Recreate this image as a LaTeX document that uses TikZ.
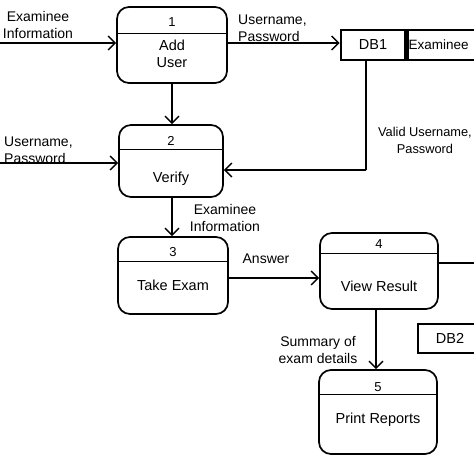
\documentclass[tikz,border=0pt]{standalone}
\usepackage{fontspec}
\setmainfont{Liberation Sans}
\usetikzlibrary{arrows.meta}
\begin{document}
\begin{tikzpicture}[x=1pt,y=-1pt,
  proc/.style={draw, rectangle, rounded corners=12pt, line width=1.7pt, inner sep=0pt},
  divline/.style={line width=0.8pt},
  numtext/.style={font=\fontsize{13}{15}\selectfont, inner sep=0pt},
  ptext/.style={font=\fontsize{14.5}{17}\selectfont, align=center, inner sep=0pt},
  lbl/.style={font=\fontsize{14}{17}\selectfont, inner sep=0pt},
  flow/.style={line width=1.4pt, -{Straight Barb[length=7pt,width=14pt]}},
  plainflow/.style={line width=1.2pt},
  store/.style={draw, rectangle, line width=2.6pt, inner sep=0pt, minimum height=30pt,
    font=\fontsize{14.5}{17}\selectfont}
]
\useasboundingbox (0,0) rectangle (474,474);
\clip (0,0) rectangle (474,474);
\fill[white] (0,0) rectangle (474,474);

% process boxes
\node[proc, minimum width=110pt, minimum height=76pt] (b1) at (172,45) {};
\node[proc, minimum width=104pt, minimum height=72pt] (b2) at (171,161) {};
\node[proc, minimum width=110pt, minimum height=77pt] (b3) at (173,275.5) {};
\node[proc, minimum width=118pt, minimum height=76pt] (b4) at (379,271) {};
\node[proc, minimum width=118pt, minimum height=84pt] (b5) at (378,412) {};

% dividers
\draw[divline] (b1.west |- 0,33) -- (b1.east |- 0,33);
\draw[divline] (b2.west |- 0,149) -- (b2.east |- 0,149);
\draw[divline] (b3.west |- 0,261) -- (b3.east |- 0,261);
\draw[divline] (b4.west |- 0,253) -- (b4.east |- 0,253);
\draw[divline] (b5.west |- 0,394) -- (b5.east |- 0,394);

% numbers
\node[numtext] (n1) at (172,22) {1};
\node[numtext] (n2) at (171,141) {2};
\node[numtext] (n3) at (173,252) {3};
\node[numtext] (n4) at (379,244) {4};
\node[numtext] (n5) at (378,387) {5};

% process names
\node[ptext] (t1) at (172,54) {Add\\User};
\node[ptext] (t2) at (171,179) {Verify};
\node[ptext] (t3) at (173,285) {Take Exam};
\node[ptext] (t4) at (379,286) {View Result};
\node[ptext] (t5) at (378,420) {Print Reports};

% data stores
\node[store, minimum width=64pt] (db1) at (373,45) {DB1};
\node[store, minimum width=90pt, anchor=west] (db1n) at (db1.east) {};
\node[font=\fontsize{13.5}{16}\selectfont, inner sep=0pt, anchor=west] (db1t) at (408.5,45) {Examinee};
\node[store, minimum width=64pt, minimum height=29pt] (db2) at (450,338.5) {DB2};
\node[store, minimum width=60pt, minimum height=29pt, anchor=west] (db2n) at (db2.east) {};

% free ends
\coordinate (in1) at (-2,43);
\coordinate (in2) at (-2,163);
\coordinate (bend) at (366,170);
\coordinate (out4) at (480,263);

% connectors
\draw[flow] (in1) -- (in1 -| b1.west);
\draw[flow] (b1.east |- 0,43) -- (db1.west |- 0,43);
\draw[flow] (b1.south -| 172,0) -- (b2.north -| 172,0);
\draw[flow] (in2) -- (in2 -| b2.west);
\draw[plainflow] (db1.south -| bend) -- (bend);
\draw[flow] (bend) -- (bend -| b2.east);
\draw[flow] (b2.south -| 172,0) -- (b3.north -| 172,0);
\draw[flow] (b3.east |- 0,278) -- (b4.west |- 0,278);
\draw[plainflow] (b4.east |- out4) -- (out4);
\draw[flow] (b4.south -| 376,0) -- (b5.north -| 376,0);

% flow labels
\node[lbl, align=center] (l1) at (38,25) {Examinee\\Information};
\node[lbl, align=left, anchor=west] (l2) at (238,28) {Username,\\Password};
\node[lbl, align=left, anchor=west] (l3) at (4,150) {Username,\\Password};
\node[font=\fontsize{12.8}{17}\selectfont, inner sep=0pt, align=center, anchor=east] (l4) at (472,140) {Valid Username,\\Password};
\node[lbl, align=center] (l5) at (225,218) {Examinee\\Information};
\node[lbl] (l6) at (266,259) {Answer};
\node[lbl, align=center] (l7) at (318,350) {Summary of\\exam details};
\end{tikzpicture}
\end{document}
